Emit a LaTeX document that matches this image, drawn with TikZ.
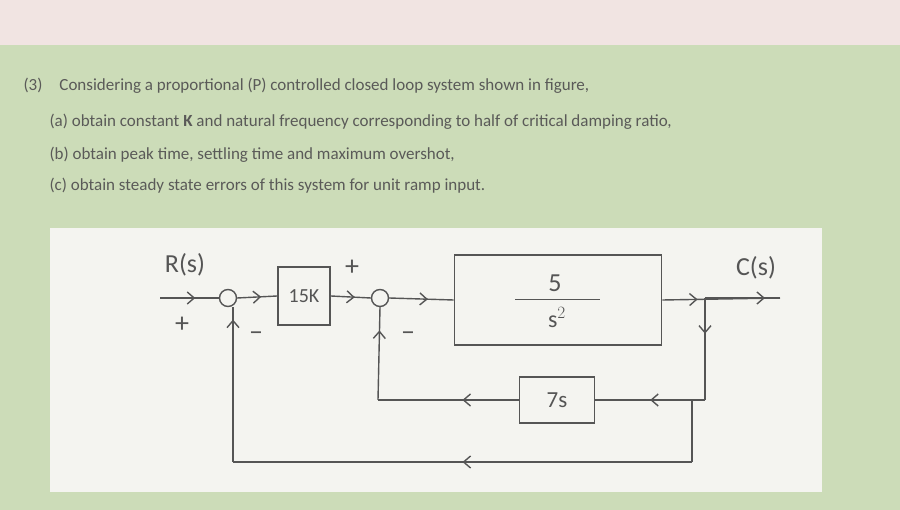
\documentclass[tikz,border=0pt]{standalone}
\usepackage{fontspec}
\setmainfont{Carlito}
\usetikzlibrary{arrows.meta,decorations.markings}
\definecolor{bggreen}{HTML}{CCDCB8}
\definecolor{topbg}{HTML}{F1E4E2}
\definecolor{txt}{HTML}{5A5A58}
\definecolor{diag}{HTML}{F4F4F0}
\definecolor{ln}{HTML}{555555}
\tikzset{
  blk/.style={draw=ln,line width=1.6pt,minimum width=50pt,minimum height=46pt,inner sep=0pt,font=\fontsize{23}{23}\selectfont,text=ln},
  sumj/.style={circle,draw=ln,line width=1.4pt,minimum size=17pt,inner sep=0pt},
  wire/.style={draw=ln,line width=1.4pt},
  mid/.style={postaction={decorate},decoration={markings,mark=at position #1 with {\arrow{Straight Barb[length=7pt,width=12pt]}}}},
  lbl/.style={text=ln,font=\fontsize{26}{26}\selectfont},
  q/.style={anchor=west,text=txt,font=\fontsize{17}{17}\selectfont}
}
\begin{document}
\begin{tikzpicture}[x=1pt,y=-1pt]
\useasboundingbox (0,0) rectangle (900,510);
\fill[topbg] (0,0) rectangle (900,45);
\fill[bggreen] (0,45) rectangle (900,510);
\fill[diag] (50,228) rectangle (822,492);
\node[q] (t0) at (20,86) {(3)\quad Considering a proportional (P) controlled closed loop system shown in figure,};
\node[q] (t1) at (46,122) {(a) obtain constant \textbf{K} and natural frequency corresponding to half of critical damping ratio,};
\node[q] (t2) at (46,155) {(b) obtain peak time, settling time and maximum overshot,};
\node[q] (t3) at (46,186) {(c) obtain steady state errors of this system for unit ramp input.};
% diagram
\node[lbl] (rs) at (185,265) {R(s)};
\node[lbl] (cs) at (756,268) {C(s)};
\coordinate (in) at (160,298);
\node[sumj] (s1) at (228,298) {};
\node[blk,minimum width=52pt,minimum height=58pt,font=\fontsize{20}{20}\selectfont] (k) at (304,296) {15K};
\node[sumj] (s2) at (380,298) {};
\node[blk,minimum width=207pt,minimum height=90pt] (g) at (558,300) {};
\node[text=ln,font=\fontsize{26}{26}\selectfont] (num) at (555,283) {5};
\draw[wire,line width=1pt] (515,300) -- (600,300);
\node[text=ln,font=\fontsize{24}{24}\selectfont] (den) at (557,318) {s$^{2}$};
\node[blk,minimum width=75pt,minimum height=46pt] (h) at (557,400) {7s};
\coordinate (out) at (780,298);
\coordinate (p1) at (705,298);
\coordinate (p2) at (705,400);
\coordinate (p3) at (692,400);
\coordinate (p4) at (692,462);
\coordinate (b1) at (233,462);
\coordinate (b2) at (378,400);
\node[lbl,font=\fontsize{28}{28}\selectfont] (pl1) at (182,325) {+};
\node[lbl,font=\fontsize{28}{28}\selectfont] (mi1) at (256,336) {–};
\node[lbl,font=\fontsize{28}{28}\selectfont] (pl2) at (352,268) {+};
\node[lbl,font=\fontsize{28}{28}\selectfont] (mi2) at (408,336) {–};
\path[wire,mid=0.6] (in) -- (s1.west);
\path[wire,mid=0.6] (s1.east) -- (k.west);
\path[wire,mid=0.6] (k.east) -- (s2.west);
\path[wire,mid=0.6] (s2.east) -- (g.west);
\path[wire,mid=0.3] (g.east) -- (out);
\path[wire,mid=0.8] (p1) -- (out);
\path[wire,mid=0.35] (p1) -- (p2);
\path[wire,mid=0.5] (p2) -- (h.east);
\path[wire,mid=0.4] (h.west) -- (b2);
\path[wire,mid=0.75] (b2) -- (s2.south);
\path[wire] (p3) -- (p4);
\path[wire,mid=0.5] (p4) -- (b1);
\path[wire,mid=0.92] (b1) -- (s1.south -| b1);
\end{tikzpicture}
\end{document}
